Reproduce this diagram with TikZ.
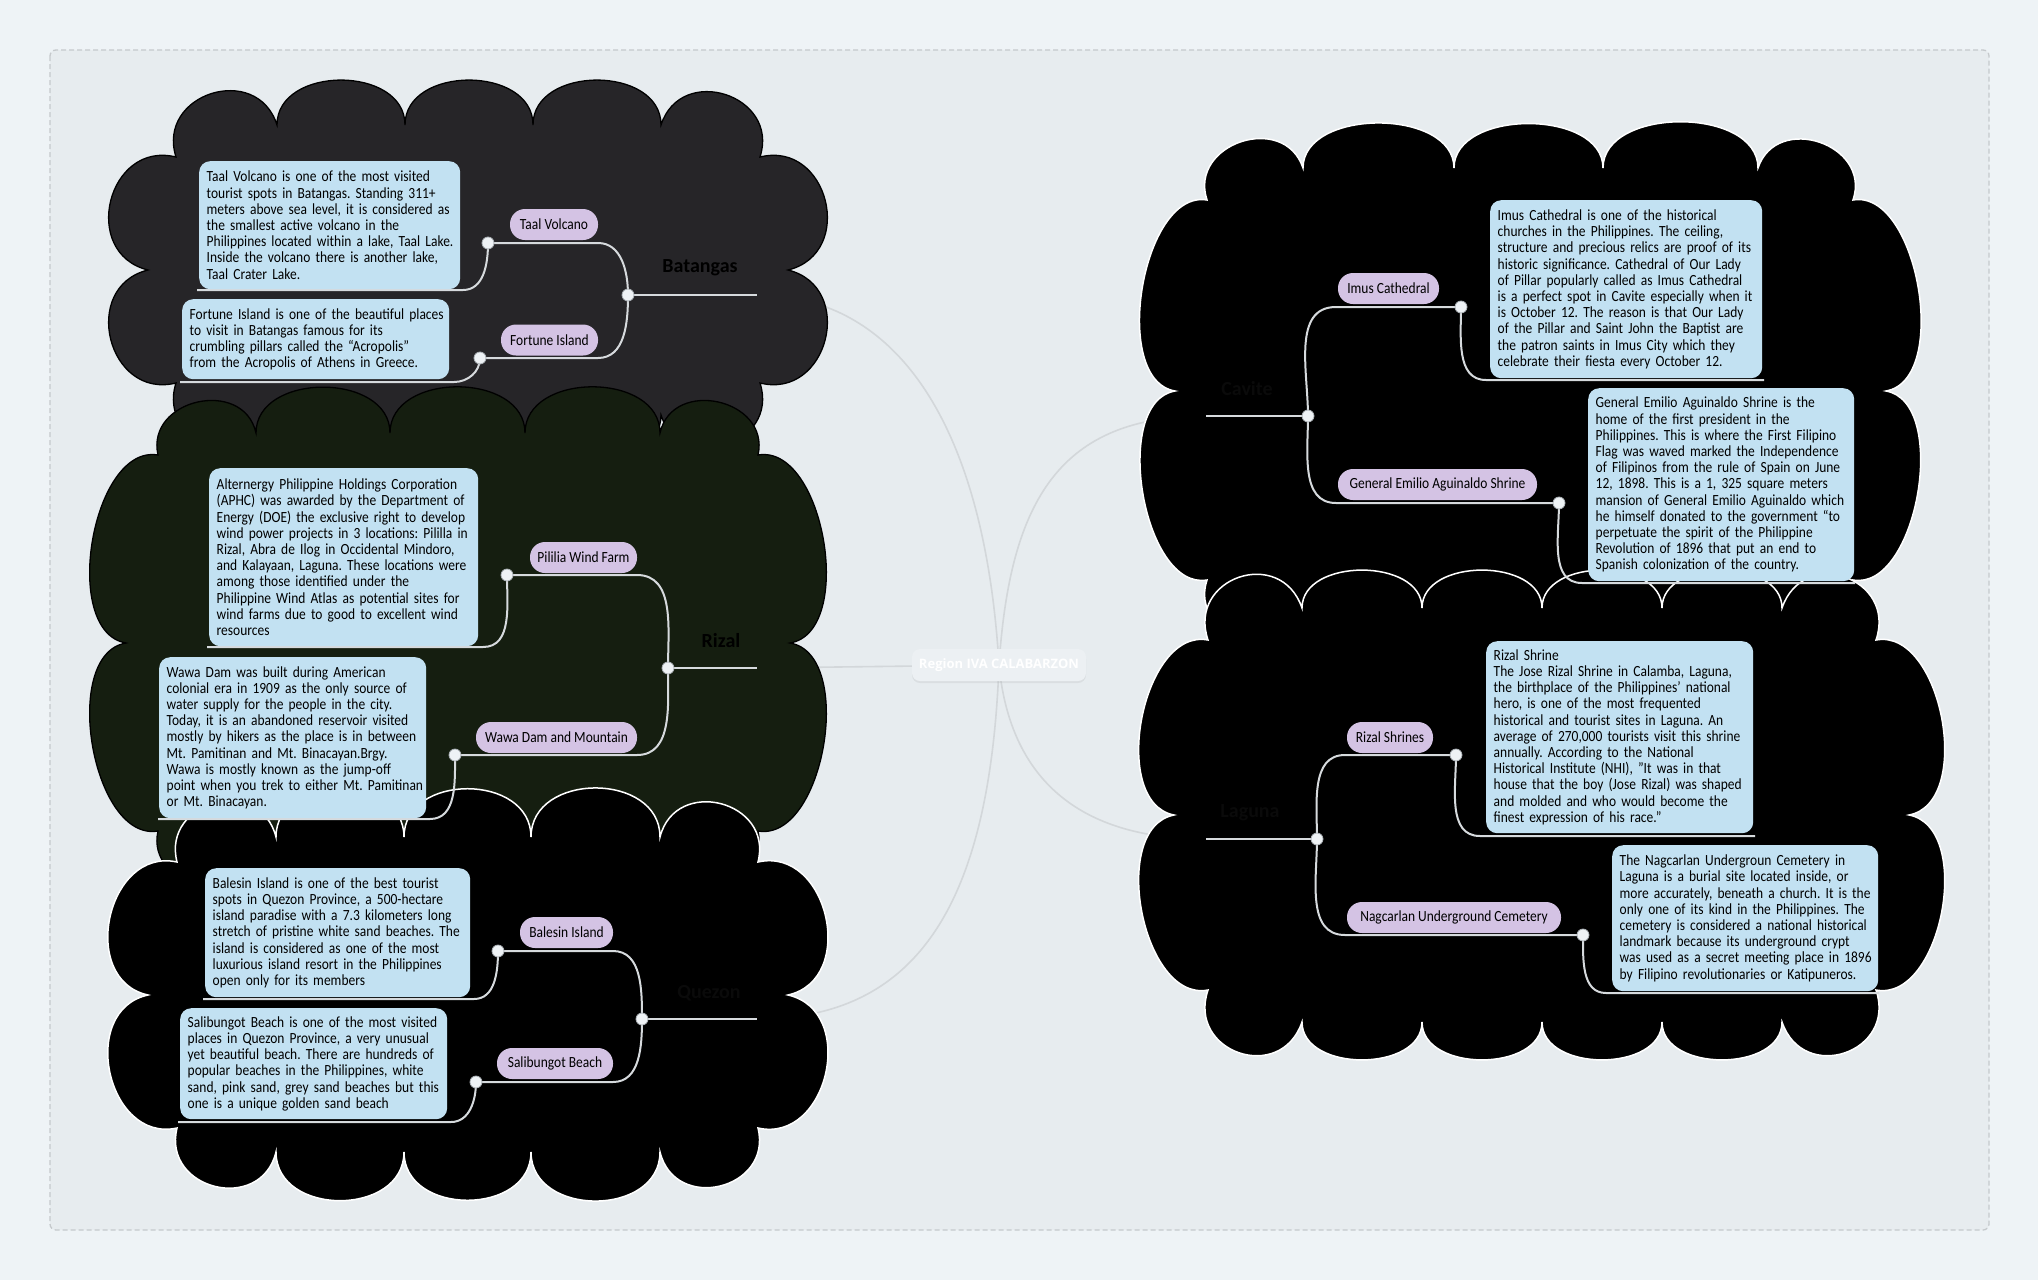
\documentclass[tikz,border=0pt]{standalone}
\usepackage{fontspec}
\setmainfont{Carlito}[FakeStretch=0.87]
\newfontfamily\lblfont{Carlito}
\newfontfamily\ctrfont{Open Sans}
\usetikzlibrary{shadows}
\definecolor{pagebg}{HTML}{EEF3F6}
\definecolor{framebg}{HTML}{E7ECEF}
\definecolor{framedash}{HTML}{C5C9CC}
\definecolor{conn}{HTML}{D3D7DA}
\definecolor{inline}{HTML}{D6DADD}
\definecolor{boxblue}{HTML}{C2E1F2}
\definecolor{pillc}{HTML}{D4C3E4}
\definecolor{batfill}{HTML}{262528}
\definecolor{rizfill}{HTML}{151E10}
\definecolor{dotfill}{HTML}{EEF2F5}
\definecolor{dotdraw}{HTML}{A9AFB4}
\definecolor{ctrfill}{HTML}{ECF0F3}
\definecolor{hidlbl}{HTML}{0A0A0A}
\frenchspacing
\hyphenpenalty=10000
\exhyphenpenalty=10000
\newcommand\dt[1]{\leftskip=7.5pt\relax #1\par}
\begin{document}
\begin{tikzpicture}[x=1pt,y=-1pt,
  bu/.style={out=90,in=90,relative,looseness=#1},
  cloudB/.style={fill=batfill,draw=black,line width=1.3pt},
  cloudR/.style={fill=rizfill,draw=black,line width=1.3pt},
  cloudK/.style={fill=black,draw=white,line width=1.5pt},
  desc/.style={fill=boxblue,rounded corners=11pt,inner xsep=0pt,inner ysep=0pt,
    anchor=north west,align=left,font=\fontsize{15.5}{16.2}\selectfont,text=black},
  pillnode/.style={fill=pillc,rounded corners=15pt,minimum height=31pt,inner xsep=0pt,
    inner ysep=0pt,font=\fontsize{15.5}{16}\selectfont,text=black},
  dot/.style={circle,fill=dotfill,draw=dotdraw,line width=0.8pt,minimum size=12pt,inner sep=0pt},
  inl/.style={draw=inline,line width=2pt},
  cl/.style={draw=conn,line width=1.6pt},
  topiclbl/.style={font=\lblfont\bfseries\fontsize{20}{24}\selectfont,inner sep=0pt},
]
\useasboundingbox (0,0) rectangle (2038,1280);
\fill[pagebg] (0,0) rectangle (2038,1280);
\draw[framedash,fill=framebg,line width=1.3pt,dash pattern=on 5pt off 3pt,rounded corners=6pt] (50,50) rectangle (1989,1230);

% ---------- coordinates ----------
\coordinate (ctrpt) at (999,665);
\coordinate (bE) at (757,295);  \coordinate (bJ) at (628,295);
\coordinate (tvR) at (598,243); \coordinate (tvD) at (488,243);
\coordinate (tvT) at (463,290); \coordinate (tvL) at (197,290);
\coordinate (fiR) at (598,358); \coordinate (fiD) at (480,358);
\coordinate (fiT) at (454,382); \coordinate (fiL) at (180,382);
\coordinate (rE) at (757,668);  \coordinate (rJ) at (668,668);
\coordinate (pwR) at (637,575); \coordinate (pwD) at (507,575);
\coordinate (pwT) at (483,647); \coordinate (pwL) at (207,647);
\coordinate (wdR) at (637,755); \coordinate (wdD) at (455,755);
\coordinate (wdT) at (430,819); \coordinate (wdL) at (158,819);
\coordinate (qE) at (757,1019); \coordinate (qJ) at (642,1019);
\coordinate (biR) at (613,951); \coordinate (biD) at (498,951);
\coordinate (biT) at (474,999); \coordinate (biL) at (203,999);
\coordinate (sbR) at (613,1082); \coordinate (sbD) at (476,1082);
\coordinate (sbT) at (451,1122); \coordinate (sbL) at (178,1122);
\coordinate (cE) at (1206,416); \coordinate (cJ) at (1308,416);
\coordinate (icL) at (1336,307); \coordinate (icD) at (1461,307);
\coordinate (icT) at (1486,380); \coordinate (icR) at (1764,380);
\coordinate (gaL) at (1336,503); \coordinate (gaD) at (1559,503);
\coordinate (gaT) at (1582,583); \coordinate (gaR) at (1855,583);
\coordinate (lE) at (1206,839); \coordinate (lJ) at (1317,839);
\coordinate (rsL) at (1345,755); \coordinate (rsD) at (1456,755);
\coordinate (rsT) at (1480,836); \coordinate (rsR) at (1755,836);
\coordinate (ncL) at (1345,935); \coordinate (ncD) at (1583,935);
\coordinate (ncT) at (1606,993); \coordinate (ncR) at (1879,993);

% ---------- central connectors ----------
\draw[cl] (ctrpt) .. controls (985,430) and (900,295) .. (bE);
\draw[cl] (ctrpt) -- (rE);
\draw[cl] (ctrpt) .. controls (990,900) and (920,1019) .. (qE);
\draw[cl] (ctrpt) .. controls (1010,500) and (1060,416) .. (cE);
\draw[cl] (ctrpt) .. controls (1008,760) and (1060,839) .. (lE);

% ---------- clouds ----------
\path[cloudB] (176,157) to[bu=1.6] (277,125) to[bu=1.2] (405,125) to[bu=1.2] (533,125)
  to[bu=1.2] (661,125) to[bu=1.6] (760,157) to[bu=1.55] (788,270) to[bu=1.55] (760,383)
  to[bu=1.6] (661,415) to[bu=1.2] (533,415) to[bu=1.2] (405,415) to[bu=1.2] (277,415)
  to[bu=1.6] (176,383) to[bu=1.55] (148,270) to[bu=1.55] (176,157) -- cycle;
\path[cloudR] (158,455) to[bu=1.46] (256,433) to[bu=1.17] (390,433) to[bu=1.17] (525,433)
  to[bu=1.17] (660,433) to[bu=1.46] (758,455) to[bu=0.9] (790,643) to[bu=0.9] (758,831)
  to[bu=1.46] (660,853) to[bu=1.17] (525,853) to[bu=1.17] (390,853) to[bu=1.17] (256,853)
  to[bu=1.46] (158,831) to[bu=0.9] (126,643) to[bu=0.9] (158,455) -- cycle;
\path[cloudK] (177,862) to[bu=1.6] (276,837) to[bu=1.3] (404,837) to[bu=1.3] (531,837)
  to[bu=1.3] (660,837) to[bu=1.6] (758,862) to[bu=1.35] (788,995) to[bu=1.35] (758,1128)
  to[bu=1.6] (660,1152) to[bu=1.3] (531,1152) to[bu=1.3] (404,1152) to[bu=1.3] (276,1152)
  to[bu=1.6] (177,1128) to[bu=1.35] (148,995) to[bu=1.35] (177,862) -- cycle;
\path[cloudK] (1207,200) to[bu=1.5] (1303,168) to[bu=1.02] (1454,168) to[bu=1.02] (1603,168)
  to[bu=1.02] (1758,168) to[bu=1.5] (1853,200) to[bu=0.87] (1886,391) to[bu=0.87] (1853,580)
  to[bu=1.5] (1758,612) to[bu=1.02] (1603,612) to[bu=1.02] (1454,612) to[bu=1.02] (1303,612)
  to[bu=1.5] (1207,580) to[bu=0.87] (1175,391) to[bu=0.87] (1207,200) -- cycle;
\path[cloudK] (1208,640) to[bu=1.7] (1302,608) to[bu=1.08] (1422,608) to[bu=1.08] (1542,608)
  to[bu=1.08] (1662,608) to[bu=1.08] (1782,608) to[bu=1.7] (1876,640) to[bu=0.96] (1909,815)
  to[bu=0.96] (1876,990) to[bu=1.7] (1782,1022) to[bu=1.08] (1662,1022) to[bu=1.08] (1542,1022)
  to[bu=1.08] (1422,1022) to[bu=1.08] (1302,1022) to[bu=1.7] (1208,990) to[bu=0.96] (1174,815)
  to[bu=0.96] (1208,640) -- cycle;

% ---------- branch lines ----------
\draw[inl] (bJ) -- (bE);
\draw[inl] (bJ) to[out=90,in=0] (tvR) -- (tvD);
\draw[inl] (bJ) to[out=-90,in=0] (fiR) -- (fiD);
\draw[inl] (tvD) to[out=-90,in=0] (tvT) -- (tvL);
\draw[inl] (fiD) to[out=-90,in=0] (fiT) -- (fiL);
\draw[inl] (rJ) -- (rE);
\draw[inl] (rJ) to[out=90,in=0] (pwR) -- (pwD);
\draw[inl] (rJ) to[out=-90,in=0] (wdR) -- (wdD);
\draw[inl] (pwD) to[out=-90,in=0] (pwT) -- (pwL);
\draw[inl] (wdD) to[out=-90,in=0] (wdT) -- (wdL);
\draw[inl] (qJ) -- (qE);
\draw[inl] (qJ) to[out=90,in=0] (biR) -- (biD);
\draw[inl] (qJ) to[out=-90,in=0] (sbR) -- (sbD);
\draw[inl] (biD) to[out=-90,in=0] (biT) -- (biL);
\draw[inl] (sbD) to[out=-90,in=0] (sbT) -- (sbL);
\draw[inl] (cJ) -- (cE);
\draw[inl] (cJ) to[out=90,in=180] (icL) -- (icD);
\draw[inl] (cJ) to[out=-90,in=180] (gaL) -- (gaD);
\draw[inl] (icD) to[out=-90,in=180] (icT) -- (icR);
\draw[inl] (gaD) to[out=-90,in=180] (gaT) -- (gaR);
\draw[inl] (lJ) -- (lE);
\draw[inl] (lJ) to[out=90,in=180] (rsL) -- (rsD);
\draw[inl] (lJ) to[out=-90,in=180] (ncL) -- (ncD);
\draw[inl] (rsD) to[out=-90,in=180] (rsT) -- (rsR);
\draw[inl] (ncD) to[out=-90,in=180] (ncT) -- (ncR);

% ---------- description boxes ----------
\node[desc,text width=261pt,minimum height=128pt] (tvbox) at (199,161) {\dt{Taal Volcano is one of the most visited\\tourist spots in Batangas. Standing 311+\\meters above sea level, it is considered as\\the smallest active volcano in the\\Philippines located within a lake, Taal Lake.\\Inside the volcano there is another lake,\\Taal Crater Lake.}};
\node[desc,text width=267pt,minimum height=80pt] (fibox) at (182,299) {\dt{Fortune Island is one of the beautiful places\\to visit in Batangas famous for its\\crumbling pillars called the “Acropolis”\\from the Acropolis of Athens in Greece.}};
\node[desc,text width=269pt,minimum height=178pt] (pwbox) at (209,468) {\dt{Alternergy Philippine Holdings Corporation\\(APHC) was awarded by the Department of\\Energy (DOE) the exclusive right to develop\\wind power projects in 3 locations: Pililla in\\Rizal, Abra de Ilog in Occidental Mindoro,\\and Kalayaan, Laguna. These locations were\\among those identified under the\\Philippine Wind Atlas as potential sites for\\wind farms due to good to excellent wind\\resources}};
\node[desc,text width=267pt,minimum height=161pt] (wdbox) at (159,657) {\dt{Wawa Dam was built during American\\colonial era in 1909 as the only source of\\water supply for the people in the city.\\Today, it is an abandoned reservoir visited\\mostly by hikers as the place is in between\\Mt. Pamitinan and Mt. Binacayan.Brgy.\\Wawa is mostly known as the jump-off\\point when you trek to either Mt. Pamitinan\\or Mt. Binacayan.}};
\node[desc,text width=265pt,minimum height=129pt] (bibox) at (205,868) {\dt{Balesin Island is one of the best tourist\\spots in Quezon Province, a 500-hectare\\island paradise with a 7.3 kilometers long\\stretch of pristine white sand beaches. The\\island is considered as one of the most\\luxurious island resort in the Philippines\\open only for its members}};
\node[desc,text width=267pt,minimum height=111pt] (sbbox) at (180,1008) {\dt{Salibungot Beach is one of the most visited\\places in Quezon Province, a very unusual\\yet beautiful beach. There are hundreds of\\popular beaches in the Philippines, white\\sand, pink sand, grey sand beaches but this\\one is a unique golden sand beach}};
\node[desc,text width=272pt,minimum height=178pt] (icbox) at (1490,200) {\dt{Imus Cathedral is one of the historical\\churches in the Philippines. The ceiling,\\structure and precious relics are proof of its\\historic significance. Cathedral of Our Lady\\of Pillar popularly called as Imus Cathedral\\is a perfect spot in Cavite especially when it\\is October 12. The reason is that Our Lady\\of the Pillar and Saint John the Baptist are\\the patron saints in Imus City which they\\celebrate their fiesta every October 12.}};
\node[desc,text width=266pt,minimum height=193pt] (gabox) at (1588,388) {\dt{General Emilio Aguinaldo Shrine is the\\home of the first president in the\\Philippines. This is where the First Filipino\\Flag was waved marked the Independence\\of Filipinos from the rule of Spain on June\\12, 1898. This is a 1, 325 square meters\\mansion of General Emilio Aguinaldo which\\he himself donated to the government “to\\perpetuate the spirit of the Philippine\\Revolution of 1896 that put an end to\\Spanish colonization of the country.}};
\node[desc,text width=267pt,minimum height=192pt] (rsbox) at (1486,641) {\dt{Rizal Shrine\\The Jose Rizal Shrine in Calamba, Laguna,\\the birthplace of the Philippines' national\\hero, is one of the most frequented\\historical and tourist sites in Laguna. An\\average of 270,000 tourists visit this shrine\\annually. According to the National\\Historical Institute (NHI), "It was in that\\house that the boy (Jose Rizal) was shaped\\and molded and who would become the\\finest expression of his race."}};
\node[desc,text width=266pt,minimum height=146pt] (ncbox) at (1612,845) {\dt{The Nagcarlan Undergroun Cemetery in\\Laguna is a burial site located inside, or\\more accurately, beneath a church. It is the\\only one of its kind in the Philippines. The\\cemetery is considered a national historical\\landmark because its underground crypt\\was used as a secret meeting place in 1896\\by Filipino revolutionaries or Katipuneros.}};

% ---------- pills ----------
\node[pillnode,minimum width=88pt] (tvpill) at (554,224.5) {Taal Volcano};
\node[pillnode,minimum width=97pt] (fipill) at (549.5,340) {Fortune Island};
\node[pillnode,minimum width=107pt] (pwpill) at (583.5,557.5) {Pililia Wind Farm};
\node[pillnode,minimum width=161pt] (wdpill) at (556.5,737.5) {Wawa Dam and Mountain};
\node[pillnode,minimum width=93pt] (bipill) at (566.5,932.5) {Balesin Island};
\node[pillnode,minimum width=116pt] (sbpill) at (555,1063.5) {Salibungot Beach};
\node[pillnode,minimum width=101pt] (icpill) at (1388.5,288.5) {Imus Cathedral};
\node[pillnode,minimum width=199pt] (gapill) at (1437.5,484.5) {General Emilio Aguinaldo Shrine};
\node[pillnode,minimum width=86pt] (rspill) at (1390,737.5) {Rizal Shrines};
\node[pillnode,minimum width=214pt] (ncpill) at (1454,917.5) {Nagcarlan Underground Cemetery};

% ---------- topic labels ----------
\node[topiclbl,text=black] (batlbl) at (700,268) {Batangas};
\node[topiclbl,text=black] (rizlbl) at (721,641) {Rizal};
\node[topiclbl,text=hidlbl] (quelbl) at (709,993) {Quezon};
\node[topiclbl,text=hidlbl] (cavlbl) at (1247,389) {Cavite};
\node[topiclbl,text=hidlbl] (laglbl) at (1250,813) {Laguna};

% ---------- dots ----------
\foreach \p in {bJ,tvD,fiD,rJ,pwD,wdD,qJ,biD,sbD,cJ,icD,gaD,lJ,rsD,ncD}
  \node[dot] (dot-\p) at (\p) {};

% ---------- central topic ----------
\node[fill=ctrfill,rounded corners=8pt,minimum width=174pt,minimum height=32pt,
  drop shadow={opacity=0.12,shadow xshift=0pt,shadow yshift=-2pt},
  font=\ctrfont\bfseries\fontsize{13}{15}\selectfont,text=white] (ctr) at (ctrpt) {Region IVA CALABARZON};
\end{tikzpicture}
\end{document}
